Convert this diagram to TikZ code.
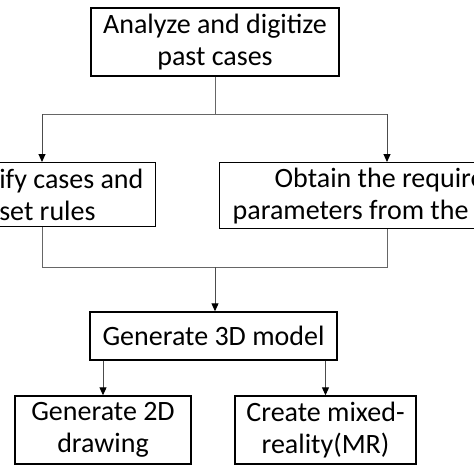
\documentclass[tikz,border=0pt]{standalone}
\usepackage{fontspec}
\setmainfont{Carlito}
\usetikzlibrary{arrows.meta,positioning}

\begin{document}
\begin{tikzpicture}[x=1pt,y=-1pt,
		box/.style={draw=black,line width=1.4pt,inner sep=4pt,font=\fontsize{28}{32}\selectfont},
		link/.style={draw=black!60,line width=1pt},
		arr/.style={draw=black!70,line width=1pt,-{Triangle[black,length=8pt,width=7pt]}}]
		\useasboundingbox (0,0) rectangle (474,474);
		\clip (0,0) rectangle (474,474);
		\node[box,minimum width=248pt,minimum height=68pt,align=center] (analyze) at (215,42) {Analyze and digitize\\past cases};
		\node[box,anchor=north east,minimum height=64pt,text width=152pt,align=flush left] (classify) at (156,162) {ify cases and\\set rules};
		\node[box,anchor=north west,minimum height=66pt,inner xsep=13pt,text width=260pt,align=flush left] (obtain) at (219,162) {\hspace*{42pt}Obtain the require\\parameters from the};
		\node[box,minimum width=247pt,minimum height=48pt] (model) at (213.5,336) {Generate 3D model};
		\node[box,minimum width=176pt,minimum height=68pt,align=center] (drawing) at (103,430) {Generate 2D\\drawing};
		\node[box,minimum width=181pt,minimum height=68pt,align=center] (mixed) at (325.5,430) {Create mixed-\\reality(MR)};
		\coordinate (forkL) at (42,114);
		\coordinate (forkR) at (387,114);
		\coordinate (join) at (215,267);
		% fork down to the two tasks
		\draw[link] (analyze.south) -- (analyze.south |- forkL);
		\draw[link] (forkL) -- (forkR);
		\draw[arr] (forkL) -- (forkL |- classify.north);
		\draw[arr] (forkR) -- (forkR |- obtain.north);
		% merge into the model
		\draw[link] (forkL |- classify.south) -- (forkL |- join) -- (forkR |- join) -- (forkR |- obtain.south);
		\draw[arr] (join) -- (join |- model.north);
		\draw[arr] (drawing.north |- model.south) -- (drawing.north);
		\draw[arr] (mixed.north |- model.south) -- (mixed.north);
	\end{tikzpicture}
\end{document}
